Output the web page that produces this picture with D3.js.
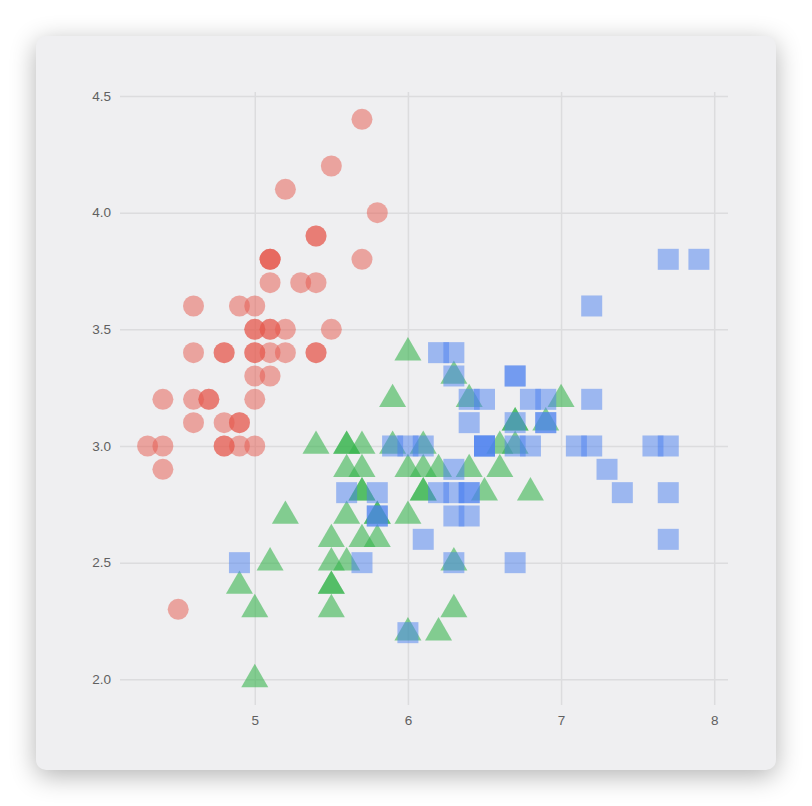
<!DOCTYPE html>
<html>
<head>
<meta charset="utf-8">
<script src="https://cdn.jsdelivr.net/npm/d3@7"></script>
<style>
  html, body { margin: 0; padding: 0; background: #fff; }
  #card {
    position: absolute; left: 36px; top: 36px; width: 740px; height: 734px;
    background: #efeff1; border-radius: 10px;
    box-shadow: 0 6px 26px rgba(0,0,0,0.3);
  }
  svg { position: absolute; left: 0; top: 0; }
  .tick text { font-family: "Liberation Sans", Arial, sans-serif; font-size: 13.5px; fill: #606060; }
</style>
</head>
<body>
<div id="card"></div>
<svg id="chart" width="812" height="806"></svg>
<script>
// sepal length / sepal width, per species
const setosaX = [5.1,4.9,4.7,4.6,5.0,5.4,4.6,5.0,4.4,4.9,5.4,4.8,4.8,4.3,5.8,5.7,5.4,5.1,5.7,5.1,5.4,5.1,4.6,5.1,4.8,5.0,5.0,5.2,5.2,4.7,4.8,5.4,5.2,5.5,4.9,5.0,5.5,4.9,4.4,5.1,5.0,4.5,4.4,5.0,5.1,4.8,5.1,4.6,5.3,5.0];
const setosaY = [3.5,3.0,3.2,3.1,3.6,3.9,3.4,3.4,2.9,3.1,3.7,3.4,3.0,3.0,4.0,4.4,3.9,3.5,3.8,3.8,3.4,3.7,3.6,3.3,3.4,3.0,3.4,3.5,3.4,3.2,3.1,3.4,4.1,4.2,3.1,3.2,3.5,3.6,3.0,3.4,3.5,2.3,3.2,3.5,3.8,3.0,3.8,3.2,3.7,3.3];
const versicolorX = [7.0,6.4,6.9,5.5,6.5,5.7,6.3,4.9,6.6,5.2,5.0,5.9,6.0,6.1,5.6,6.7,5.6,5.8,6.2,5.6,5.9,6.1,6.3,6.1,6.4,6.6,6.8,6.7,6.0,5.7,5.5,5.5,5.8,6.0,5.4,6.0,6.7,6.3,5.6,5.5,5.5,6.1,5.8,5.0,5.6,5.7,5.7,6.2,5.1,5.7];
const versicolorY = [3.2,3.2,3.1,2.3,2.8,2.8,3.3,2.4,2.9,2.7,2.0,3.0,2.2,2.9,2.9,3.1,3.0,2.7,2.2,2.5,3.2,2.8,2.5,2.8,2.9,3.0,2.8,3.0,2.9,2.6,2.4,2.4,2.7,2.7,3.0,3.4,3.1,2.3,3.0,2.5,2.6,3.0,2.6,2.3,2.7,3.0,2.9,2.9,2.5,2.8];
const virginicaX = [6.3,5.8,7.1,6.3,6.5,7.6,4.9,7.3,6.7,7.2,6.5,6.4,6.8,5.7,5.8,6.4,6.5,7.7,7.7,6.0,6.9,5.6,7.7,6.3,6.7,7.2,6.2,6.1,6.4,7.2,7.4,7.9,6.4,6.3,6.1,7.7,6.3,6.4,6.0,6.9,6.7,6.9,5.8,6.8,6.7,6.7,6.3,6.5,6.2,5.9];
const virginicaY = [3.3,2.7,3.0,2.9,3.0,3.0,2.5,2.9,2.5,3.6,3.2,2.7,3.0,2.5,2.8,3.2,3.0,3.8,2.6,2.2,3.2,2.8,2.8,2.7,3.3,3.2,2.8,3.0,2.8,3.0,2.8,3.8,2.8,2.8,2.6,3.0,3.4,3.1,3.0,3.1,3.1,3.1,2.7,3.2,3.3,3.0,2.5,3.0,3.4,3.0];

const xTicks = [5, 6, 7, 8];
const yTicks = [2.0, 2.5, 3.0, 3.5, 4.0, 4.5];

const series = [
  { xs: setosaX, ys: setosaY, symbol: d3.symbolCircle, size: 346, color: "#e5574b", opacity: 0.5 },
  { xs: versicolorX, ys: versicolorY, symbol: d3.symbolTriangle, size: 316, color: "#34b34a", opacity: 0.58 },
  { xs: virginicaX, ys: virginicaY, symbol: d3.symbolSquare, size: 441, color: "#4a80f0", opacity: 0.5 }
];

const plotLeft = 120, plotRight = 728, plotTop = 92, plotBottom = 705;

const x = d3.scaleLinear().domain([4.12, 8.09]).range([plotLeft, plotRight]);
const y = d3.scaleLinear().domain([1.89, 4.517]).range([plotBottom, plotTop]);

const svg = d3.select("#chart");

// grid + ticks
svg.append("g")
  .attr("class", "xaxis")
  .attr("transform", `translate(0,${plotBottom})`)
  .call(d3.axisBottom(x).tickValues(xTicks).tickFormat(d3.format("d"))
    .tickSize(-(plotBottom - plotTop)).tickPadding(10))
  .call(g => g.select(".domain").remove())
  .call(g => g.selectAll(".tick line").attr("stroke", "#dcdcde").attr("stroke-width", 1.5));

svg.append("g")
  .attr("class", "yaxis")
  .attr("transform", `translate(${plotLeft},0)`)
  .call(d3.axisLeft(y).tickValues(yTicks).tickFormat(d3.format(".1f"))
    .tickSize(-(plotRight - plotLeft)).tickPadding(9))
  .call(g => g.select(".domain").remove())
  .call(g => g.selectAll(".tick line").attr("stroke", "#dcdcde").attr("stroke-width", 1.5));

// points
series.forEach(s => {
  svg.append("g")
    .selectAll("path")
    .data(s.xs.map((v, i) => [v, s.ys[i]]))
    .join("path")
    .attr("d", d3.symbol().type(s.symbol).size(s.size))
    .attr("transform", d => `translate(${x(d[0])},${y(d[1])})`)
    .attr("fill", s.color)
    .attr("fill-opacity", s.opacity);
});
</script>
</body>
</html>
